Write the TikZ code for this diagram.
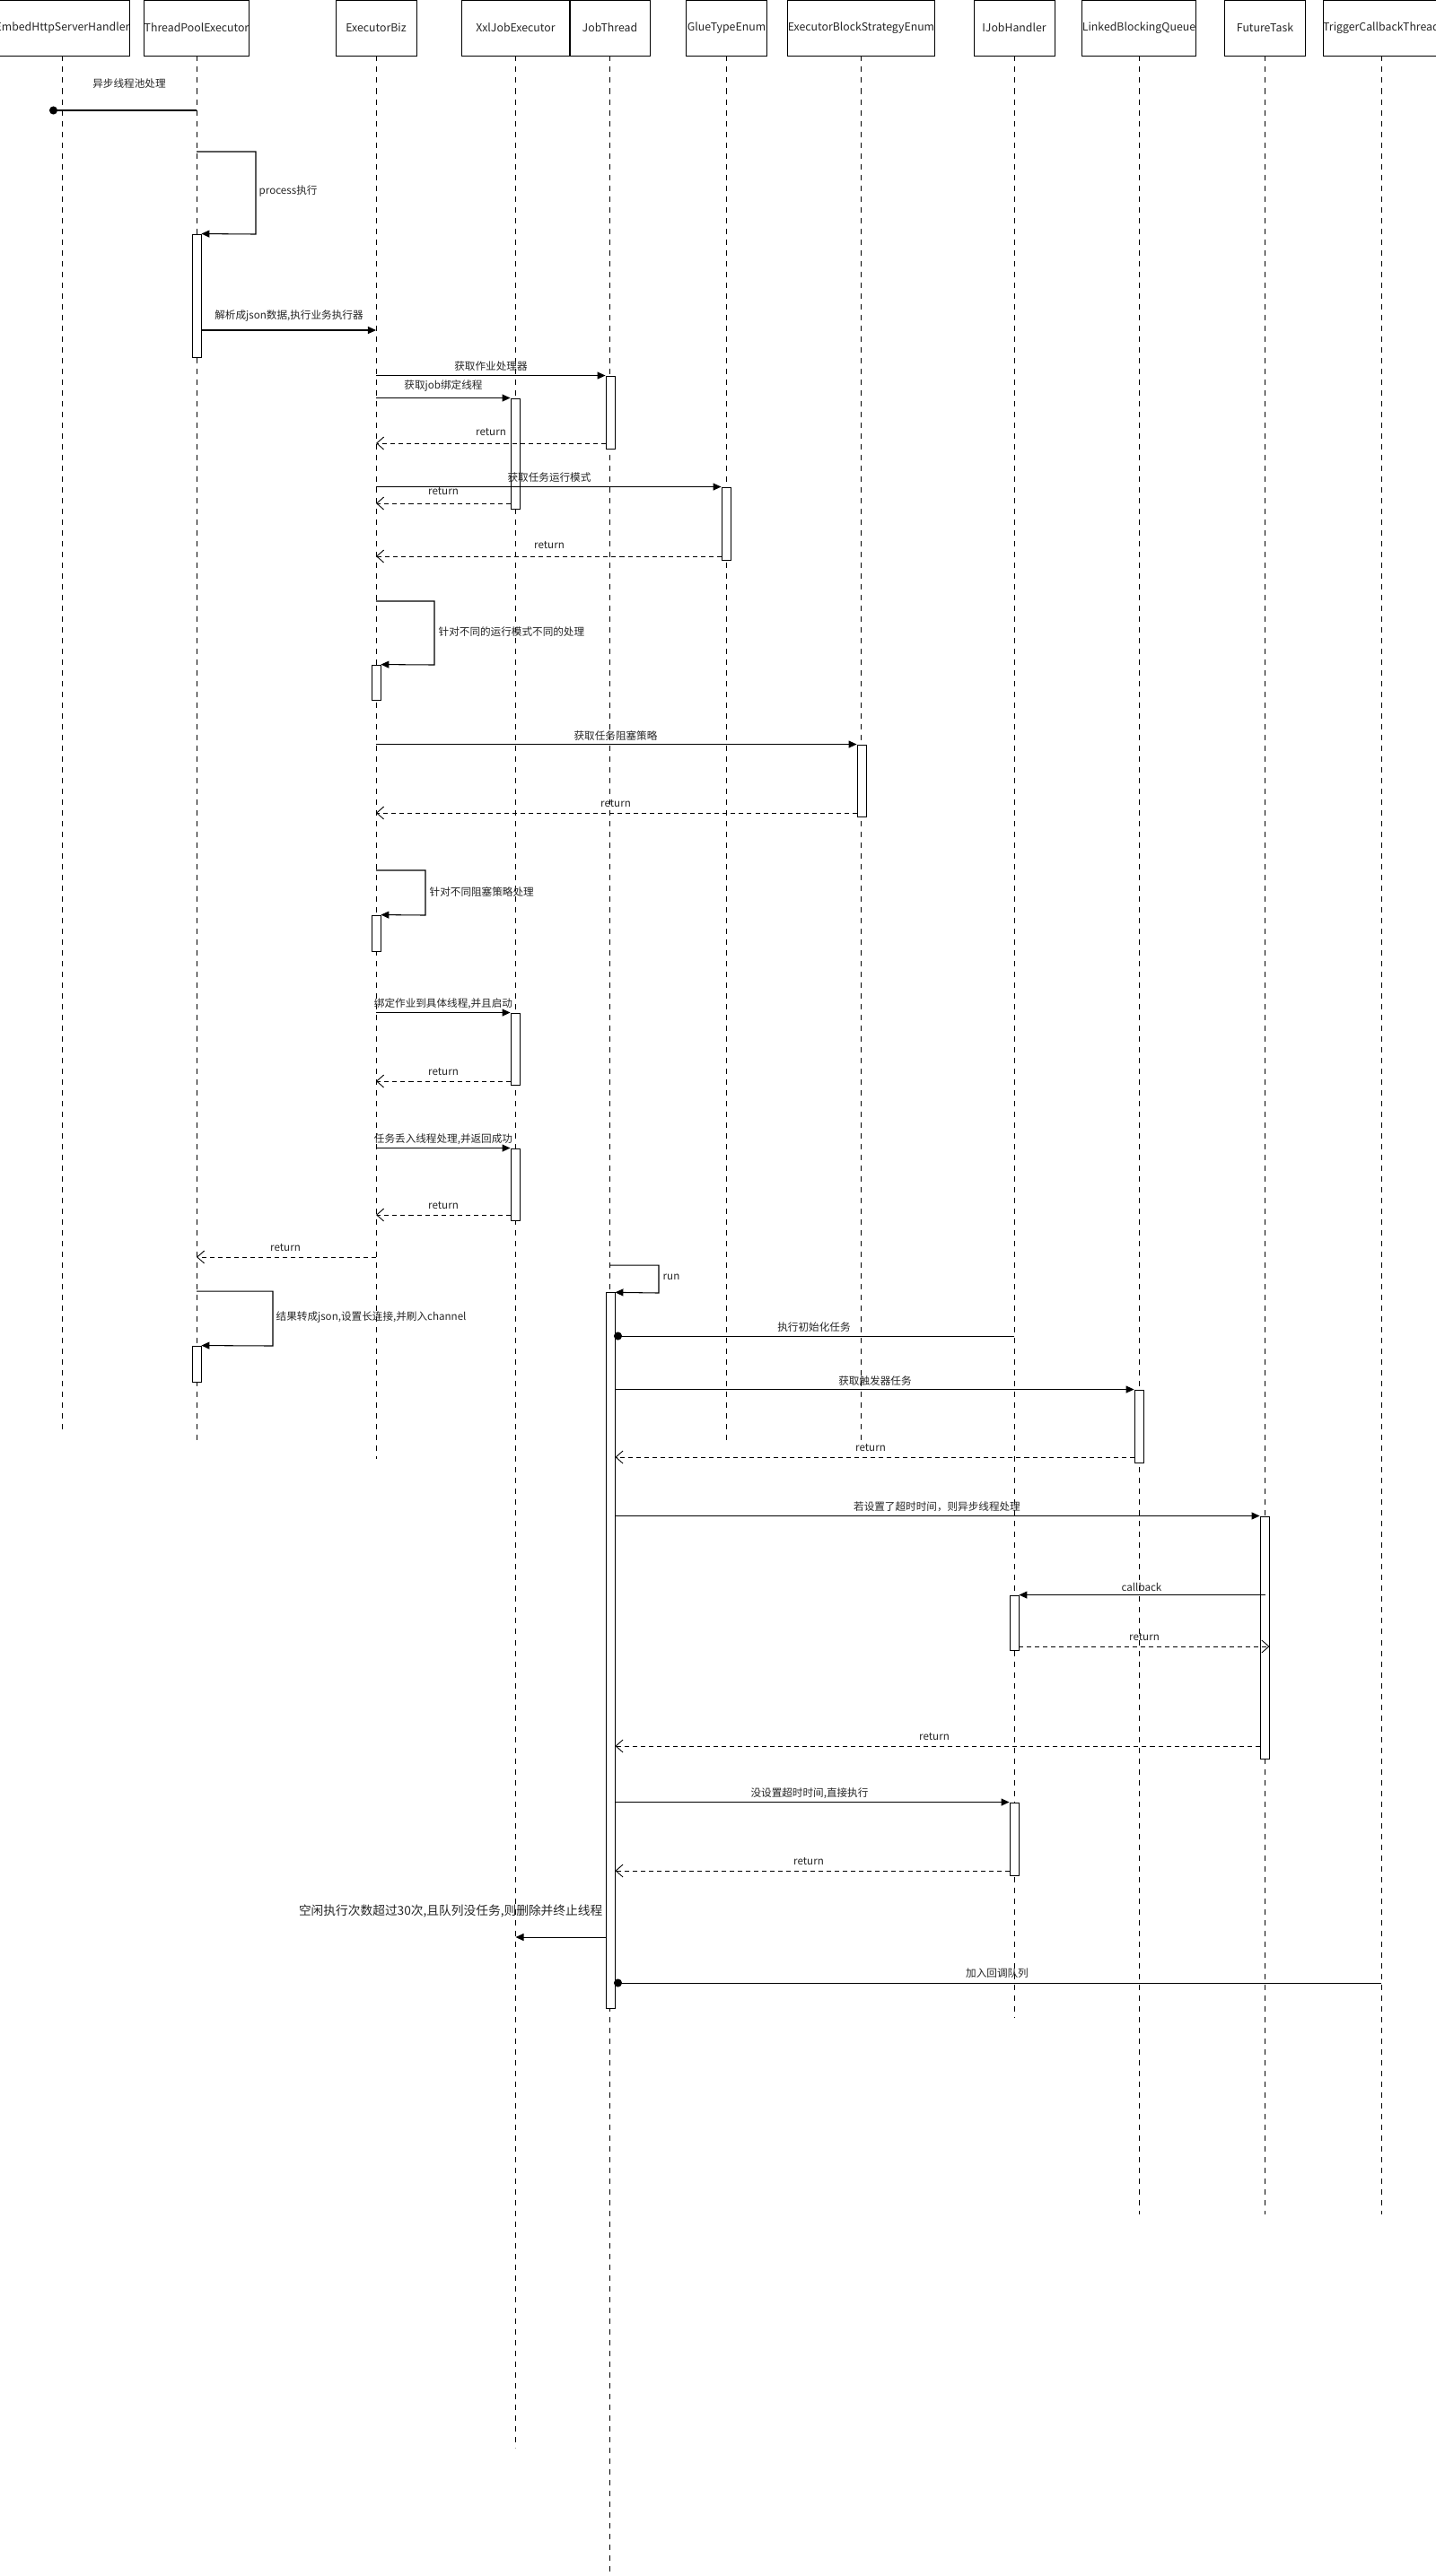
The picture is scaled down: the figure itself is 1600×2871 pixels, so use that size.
\documentclass[tikz,border=0pt]{standalone}
\usepackage{fontspec}
\setmainfont{Noto Sans CJK SC}
\usetikzlibrary{arrows.meta}
\begin{document}
\begin{tikzpicture}[x=0.01cm,y=-0.01cm,
 hd/.style={draw,line width=0.25pt,minimum width=9mm,minimum height=6.2mm,inner sep=0,font=\fontsize{3.5}{4}\selectfont,text=black!85},
 life/.style={dashed,dash pattern=on 0.6mm off 0.6mm,line width=0.25pt},
 act/.style={draw,fill=white,line width=0.25pt,minimum width=1mm,inner sep=0},
 msg/.style={line width=0.3pt,-{Triangle[length=0.9mm,width=0.8mm]}},
 ret/.style={line width=0.25pt,dashed,dash pattern=on 0.5mm off 0.4mm,-{Straight Barb[length=0.8mm,width=1.4mm]}},
 dotst/.style={{Circle[length=0.9mm]}-},
 lab/.style={font=\fontsize{3.3}{4}\selectfont,text=black!85,inner sep=0}]
\useasboundingbox[fill=white] (0,0) rectangle (1600,2871);
% headers
\node[hd,minimum width=13.1mm] (h1) at (69.5,31) {EmbedHttpServerHandler};
\node[hd] (h2) at (219,31) {ThreadPoolExecutor};
\node[hd] (h3) at (419,31) {ExecutorBiz};
\node[hd,minimum width=12.1mm] (h4) at (574.5,31) {XxlJobExecutor};
\node[hd] (h5) at (679.5,31) {JobThread};
\node[hd] (h6) at (809.5,31) {GlueTypeEnum};
\node[hd] (h7) at (959.5,31) {ExecutorBlockStrategyEnum};
\node[hd] (h8) at (1130,31) {IJobHandler};
\node[hd] (h9) at (1269,31) {LinkedBlockingQueue};
\node[hd] (h10) at (1409.5,31) {FutureTask};
\node[hd] (h11) at (1539,31) {TriggerCallbackThread};
% lifelines
\coordinate (e1) at (69,1597); \coordinate (e2) at (219,1608); \coordinate (e3) at (419,1626);
\coordinate (e4) at (574,2728); \coordinate (e5) at (680,2871); \coordinate (e6) at (809,1608);
\coordinate (e7) at (960,1608); \coordinate (e8) at (1130,2249); \coordinate (e9) at (1269,2468);
\coordinate (e10) at (1409,2468); \coordinate (e11) at (1539,2468);
\foreach \i in {1,...,11}{\draw[life] (h\i.south) -- (h\i.south |- e\i);}
% activations
\node[act,minimum height=13.7mm] (aT1) at (219,329.5) {};
\node[act,minimum height=12.3mm] (aX1) at (574,505.5) {};
\node[act,minimum height=8.1mm] (aJ1) at (680,459.5) {};
\node[act,minimum height=8.1mm] (aG) at (809,583.5) {};
\node[act,minimum height=3.9mm] (aB1) at (419,760.5) {};
\node[act,minimum height=8mm] (aE) at (960,870) {};
\node[act,minimum height=4mm] (aB2) at (419,1040) {};
\node[act,minimum height=8mm] (aX2) at (574,1169) {};
\node[act,minimum height=8mm] (aX3) at (574,1320) {};
\node[act,minimum height=4mm] (aT2) at (219,1520) {};
\node[act,minimum height=79.7mm] (aJ2) at (680,1839.5) {};
\node[act,minimum height=8.1mm] (aL) at (1269,1589.5) {};
\node[act,minimum height=27mm] (aF) at (1409,1825) {};
\node[act,minimum height=6.1mm] (aI1) at (1130,1808.5) {};
\node[act,minimum height=8.1mm] (aI2) at (1130,2049.5) {};
% messages
\coordinate (s1) at (55,123);
\draw[msg,dotst] (s1) -- (h2.south |- s1);
\node[lab] at (144,93) {异步线程池处理};
\draw[msg] (h2.south |- 0,169) -- (285,169) -- (285,261) -- (aT1.north east);
\node[lab,anchor=west] at (288,213) {process执行};
\draw[msg] (aT1.east |- 0,368) -- (h3.south |- 0,368);
\node[lab] at (322,352) {解析成json数据,执行业务执行器};
\draw[msg] (h3.south |- aX1.north) -- (aX1.north west);
\node[lab] at (494,430) {获取job绑定线程};
\draw[ret] (aX1.west |- 0,561) -- (h3.south |- 0,561);
\node[lab] at (494,548) {return};
\draw[msg] (h3.south |- aJ1.north) -- (aJ1.north west);
\node[lab] at (547,408) {获取作业处理器};
\draw[ret] (aJ1.west |- 0,494) -- (h3.south |- 0,494);
\node[lab] at (547,482) {return};
\draw[msg] (h3.south |- aG.north) -- (aG.north west);
\node[lab] at (612,532) {获取任务运行模式};
\draw[ret] (aG.west |- 0,620) -- (h3.south |- 0,620);
\node[lab] at (612,608) {return};
\draw[msg] (h3.south |- 0,670) -- (484,670) -- (484,741) -- (aB1.north east);
\node[lab,anchor=west] at (488,704) {针对不同的运行模式不同的处理};
\draw[msg] (h3.south |- aE.north) -- (aE.north west);
\node[lab] at (686,820) {获取任务阻塞策略};
\draw[ret] (aE.west |- 0,906) -- (h3.south |- 0,906);
\node[lab] at (686,896) {return};
\draw[msg] (h3.south |- 0,970) -- (474,970) -- (474,1020) -- (aB2.north east);
\node[lab,anchor=west] at (478,994) {针对不同阻塞策略处理};
\draw[msg] (h3.south |- aX2.north) -- (aX2.north west);
\node[lab] at (494,1119) {绑定作业到具体线程,并且启动};
\draw[ret] (aX2.west |- 0,1205) -- (h3.south |- 0,1205);
\node[lab] at (494,1195) {return};
\draw[msg] (h3.south |- aX3.north) -- (aX3.north west);
\node[lab] at (494,1270) {任务丢入线程处理,并返回成功};
\draw[ret] (aX3.west |- 0,1354) -- (h3.south |- 0,1354);
\node[lab] at (494,1344) {return};
\draw[ret] (h3.south |- 0,1401) -- (h2.south |- 0,1401);
\node[lab] at (318,1391) {return};
\draw[msg] (h5.south |- 0,1410) -- (734,1410) -- (734,1441) -- (aJ2.north east);
\node[lab,anchor=west] at (738,1423) {run};
\draw[msg] (h2.south |- 0,1439) -- (304,1439) -- (304,1500) -- (aT2.north east);
\node[lab,anchor=west] at (307,1468) {结果转成json,设置长连接,并刷入channel};
\coordinate (s2) at (684,1489);
\draw[msg,dotst] (s2) -- (h8.south |- s2);
\node[lab] at (907,1479) {执行初始化任务};
\draw[msg] (aJ2.east |- aL.north) -- (aL.north west);
\node[lab] at (975,1539) {获取触发器任务};
\draw[ret] (aL.west |- 0,1624) -- (aJ2.east |- 0,1624);
\node[lab] at (970,1614) {return};
\draw[msg] (aJ2.east |- aF.north) -- (aF.north west);
\node[lab] at (1044,1679) {若设置了超时时间，则异步线程处理};
\draw[msg] (h10.south |- aI1.north) -- (aI1.north east);
\node[lab] at (1272,1769) {callback};
\draw[ret] (aI1.east |- 0,1835) -- (aF.east |- 0,1835);
\node[lab] at (1275,1825) {return};
\draw[ret] (aF.west |- 0,1946) -- (aJ2.east |- 0,1946);
\node[lab] at (1041,1936) {return};
\draw[msg] (aJ2.east |- aI2.north) -- (aI2.north west);
\node[lab] at (902,1999) {没设置超时时间,直接执行};
\draw[ret] (aI2.west |- 0,2085) -- (aJ2.east |- 0,2085);
\node[lab] at (901,2075) {return};
\node[lab,font=\fontsize{3.9}{4.5}\selectfont,anchor=east] at (672,2130) {空闲执行次数超过30次,且队列没任务,则删除并终止线程};
\draw[msg] (aJ2.west |- 0,2159) -- (h4.south |- 0,2159);
\coordinate (s3) at (684,2210);
\draw[msg,dotst] (s3) -- (h11.south |- s3);
\node[lab] at (1111,2199) {加入回调队列};
\end{tikzpicture}
\end{document}
